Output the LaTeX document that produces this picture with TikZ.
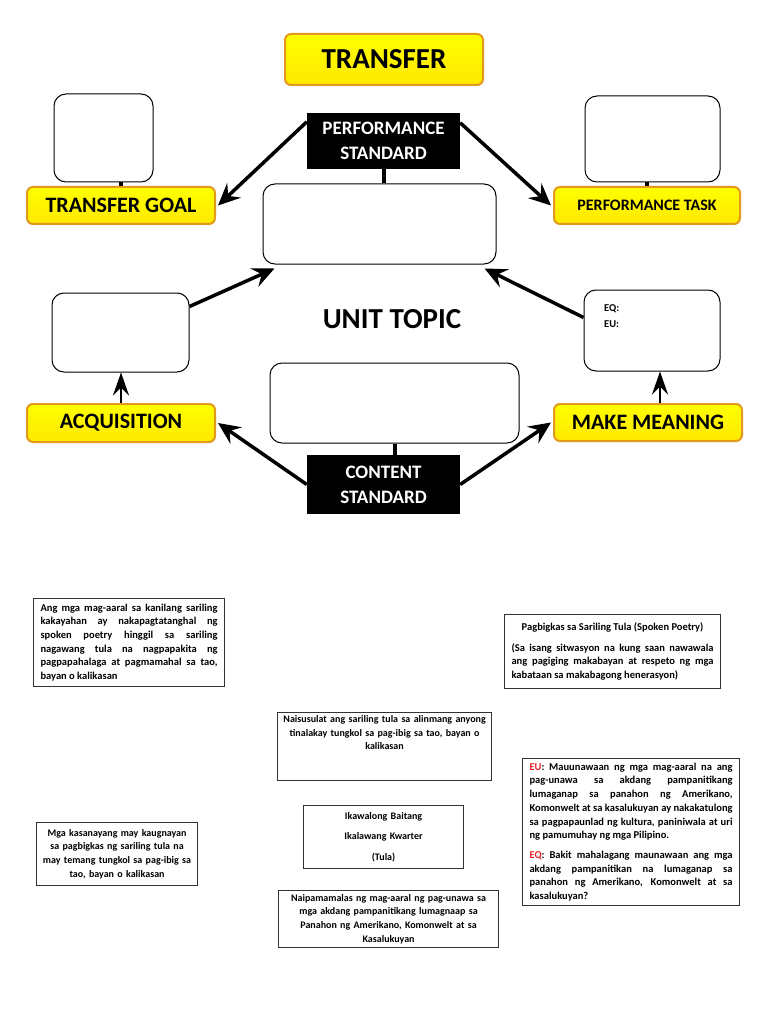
\documentclass[tikz,border=0pt]{standalone}
\usepackage{fontspec}
\setmainfont{Carlito}
\usetikzlibrary{arrows.meta}

\definecolor{boxyellow}{HTML}{FFFF00}
\definecolor{boxorange}{HTML}{E39A1C}
\definecolor{eured}{HTML}{E8202A}

\hyphenpenalty=10000
\tolerance=9999

\tikzset{
  labelbox/.style={draw=boxorange, line width=2pt, rounded corners=6pt,
    top color=boxyellow, bottom color=boxyellow!82!orange,
    font=\bfseries\fontsize{22}{24}\selectfont, inner sep=0pt},
  blankbox/.style={draw, line width=1pt, rounded corners=12pt, fill=white},
  standardbox/.style={fill=black, text=white, align=center, inner sep=0pt,
    font=\bfseries\fontsize{19}{25}\selectfont},
  notebox/.style={draw=black!80, line width=1.1pt, anchor=north west,
    inner xsep=5pt, inner ysep=3pt, font=\bfseries\fontsize{10}{13.6}\selectfont},
  fullnote/.style={notebox, inner xsep=7pt, align=justify,
    font=\bfseries\fontsize{10.5}{13.7}\selectfont},
  bigarrow/.style={line width=3.5pt, -{Stealth[length=22pt,width=20pt,inset=8pt]}},
  uparrow/.style={line width=2.5pt, -{Stealth[length=23pt,width=16pt,inset=8pt]}},
  stub/.style={line width=4pt},
}

\begin{document}
\begin{tikzpicture}[x=1pt,y=-1pt]
        \useasboundingbox (0,0) rectangle (768,1024);

        % Title
        \node[labelbox, minimum width=198pt, minimum height=51pt,
          font=\bfseries\fontsize{29}{30}\selectfont] (transfer) at (384,59.5) {TRANSFER};

        % Top row
        \node[blankbox, minimum width=99pt, minimum height=88pt] (goalnote) at (103.5,138) {};
        \node[blankbox, minimum width=135pt, minimum height=86pt] (tasknote) at (652.5,139) {};
        \node[standardbox, minimum width=153pt, minimum height=56pt] (perfstd) at (383.5,141) {PERFORMANCE\\STANDARD};
        \node[labelbox, minimum width=188pt, minimum height=37pt] (tgoal) at (121,205.5) {TRANSFER GOAL};
        \node[labelbox, minimum width=186pt, minimum height=37pt,
          font=\bfseries\fontsize{16}{18}\selectfont] (ptask) at (647,205.5) {PERFORMANCE TASK};
        \node[blankbox, minimum width=233pt, minimum height=80pt] (psnote) at (379.5,224) {};

        % Middle row
        \node[blankbox, minimum width=137pt, minimum height=79pt] (acqnote) at (120.5,332.5) {};
        \node[blankbox, minimum width=136pt, minimum height=81pt] (mmnote) at (652,330.5) {};
        \node[anchor=north west, align=left, inner sep=0pt,
          font=\bfseries\fontsize{10.5}{16}\selectfont] (eqeu) at (604,304) {EQ:\\EU:};
        \node[font=\bfseries\fontsize{29}{30}\selectfont] (topic) at (392,319) {UNIT TOPIC};

        % Bottom row
        \node[blankbox, minimum width=249pt, minimum height=80pt] (csnote) at (394.5,403) {};
        \node[labelbox, minimum width=188pt, minimum height=38pt] (acq) at (121,423) {ACQUISITION};
        \node[labelbox, minimum width=188pt, minimum height=37pt] (makem) at (648,422.5) {MAKE MEANING};
        \node[standardbox, minimum width=153pt, minimum height=59pt] (contstd) at (383.5,484.5) {CONTENT\\STANDARD};

        % Short links between boxes
        \draw[stub] (tgoal.north) -- (tgoal.north |- goalnote.south);
        \draw[stub] (ptask.north) -- (ptask.north |- tasknote.south);
        \draw[stub] (perfstd.south) -- (perfstd.south |- psnote.north);
        \draw[stub] (csnote.south) -- (csnote.south |- contstd.north);

        % Arrows
        \draw[bigarrow] ([yshift=-9pt]perfstd.north west) -- ([xshift=2pt]tgoal.east);
        \draw[bigarrow] ([yshift=-10pt]perfstd.north east) -- ([xshift=-2pt]ptask.west);
        \draw[bigarrow] ([yshift=26pt]acqnote.east) -- ([xshift=12pt,yshift=-4pt]psnote.south west);
        \draw[bigarrow] ([yshift=13pt]mmnote.west) -- ([xshift=-12pt,yshift=-4pt]psnote.south east);
        \draw[bigarrow] (contstd.west) -- ([xshift=2pt]acq.east);
        \draw[bigarrow] (contstd.east) -- ([xshift=-2pt]makem.west);
        \coordinate (mmfoot) at ([xshift=12pt]makem.north);
        \draw[uparrow] (acq.north) -- (acq.north |- acqnote.south);
        \draw[uparrow] (mmfoot) -- (mmfoot |- mmnote.south);

        % Filled-in notes
        \node[fullnote, text width=177pt, minimum height=88pt] (stdnote) at (33,598)
          {Ang mga mag-aaral sa kanilang sariling\linebreak
           kakayahan ay nakapagtatanghal ng\linebreak
           spoken poetry hinggil sa sariling\linebreak
           nagawang tula na nagpapakita ng\linebreak
           pagpapahalaga at pagmamahal sa tao,\linebreak
           bayan o kalikasan};
        \node[fullnote, text width=202pt, minimum height=74pt] (tasktext) at (504,614)
          {{\centering Pagbigkas sa Sariling Tula (Spoken Poetry)\par}\vspace{7pt}
           (Sa isang sitwasyon na kung saan nawawala\linebreak
           ang pagiging makabayan at respeto ng mga\linebreak
           kabataan sa makabagong henerasyon)};
        \node[notebox, text width=204pt, minimum height=65pt, align=center] (goaltext) at (277,712)
          {Naisusulat ang sariling tula sa alinmang anyong\\
           tinalakay tungkol sa pag-ibig sa tao, bayan o\\
           kalikasan\\[14pt]\mbox{}};
        \node[fullnote, text width=203pt, minimum height=147pt] (euqnote) at (522,758)
          {{\color{eured}EU}: Mauunawaan ng mga mag-aaral na ang\linebreak
           pag-unawa sa akdang pampanitikang\linebreak
           lumaganap sa panahon ng Amerikano,\linebreak
           Komonwelt at sa kasalukuyan ay nakakatulong\linebreak
           sa pagpapaunlad ng kultura, paniniwala at uri\linebreak
           ng pamumuhay ng mga Pilipino.\par\vspace{6pt}
           {\color{eured}EQ}: Bakit mahalagang maunawaan ang mga\linebreak
           akdang pampanitikan na lumaganap sa\linebreak
           panahon ng Amerikano, Komonwelt at sa\linebreak
           kasalukuyan?};
        \node[notebox, text width=151pt, minimum height=63pt, align=center] (skillnote) at (36,822)
          {Mga kasanayang may kaugnayan\\
           sa pagbigkas ng sariling tula na\\
           may temang tungkol sa pag-ibig sa\\
           tao, bayan o kalikasan};
        \node[notebox, text width=150pt, minimum height=63pt, align=center] (gradenote) at (303,805)
          {Ikawalong Baitang\\[7pt]
           Ikalawang Kwarter\\[7pt]
           (Tula)};
        \node[notebox, text width=210pt, minimum height=57pt, align=center] (contentnote) at (278,890)
          {Naipamamalas ng mag-aaral ng pag-unawa sa\\
           mga akdang pampanitikang lumagnaap sa\\
           Panahon ng Amerikano, Komonwelt at sa\\
           Kasalukuyan};
\end{tikzpicture}
\end{document}
